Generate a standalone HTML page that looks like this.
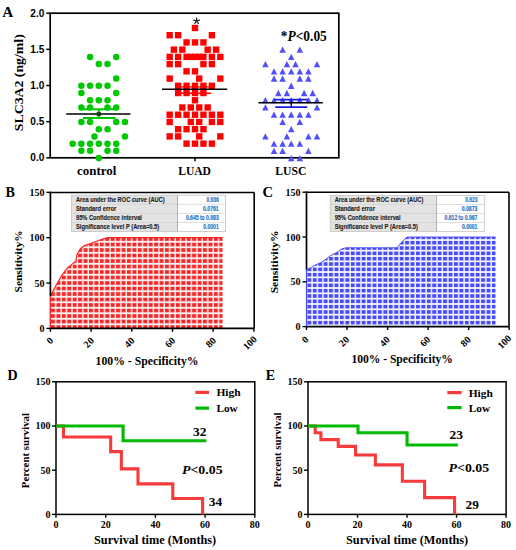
<!DOCTYPE html>
<html><head><meta charset="utf-8"><style>
html,body{margin:0;padding:0;background:#fff;width:516px;height:550px;overflow:hidden}
svg{display:block}
</style></head><body>
<svg width="516" height="550" viewBox="0 0 516 550">
<rect width="516" height="550" fill="#fff"/>
<text x="2.20" y="16.60" font-family="'Liberation Serif', serif" font-size="15.6" font-weight="bold" fill="#000" textLength="11.00" lengthAdjust="spacingAndGlyphs">A</text>
<rect x="50.2" y="13.2" width="288.6" height="144.60000000000002" fill="none" stroke="#000" stroke-width="1.7"/>
<line x1="46.30" y1="157.80" x2="50.20" y2="157.80" stroke="#000" stroke-width="1.5" stroke-linecap="butt"/>
<text x="44.30" y="161.40" font-family="'Liberation Sans', sans-serif" font-size="10" font-weight="bold" fill="#000" text-anchor="end" textLength="14.00" lengthAdjust="spacingAndGlyphs">0.0</text>
<line x1="46.30" y1="121.65" x2="50.20" y2="121.65" stroke="#000" stroke-width="1.5" stroke-linecap="butt"/>
<text x="44.30" y="125.25" font-family="'Liberation Sans', sans-serif" font-size="10" font-weight="bold" fill="#000" text-anchor="end" textLength="14.00" lengthAdjust="spacingAndGlyphs">0.5</text>
<line x1="46.30" y1="85.50" x2="50.20" y2="85.50" stroke="#000" stroke-width="1.5" stroke-linecap="butt"/>
<text x="44.30" y="89.10" font-family="'Liberation Sans', sans-serif" font-size="10" font-weight="bold" fill="#000" text-anchor="end" textLength="14.00" lengthAdjust="spacingAndGlyphs">1.0</text>
<line x1="46.30" y1="49.35" x2="50.20" y2="49.35" stroke="#000" stroke-width="1.5" stroke-linecap="butt"/>
<text x="44.30" y="52.95" font-family="'Liberation Sans', sans-serif" font-size="10" font-weight="bold" fill="#000" text-anchor="end" textLength="14.00" lengthAdjust="spacingAndGlyphs">1.5</text>
<line x1="46.30" y1="13.20" x2="50.20" y2="13.20" stroke="#000" stroke-width="1.5" stroke-linecap="butt"/>
<text x="44.30" y="16.80" font-family="'Liberation Sans', sans-serif" font-size="10" font-weight="bold" fill="#000" text-anchor="end" textLength="14.00" lengthAdjust="spacingAndGlyphs">2.0</text>
<line x1="98.80" y1="157.80" x2="98.80" y2="161.20" stroke="#000" stroke-width="1.5" stroke-linecap="butt"/>
<line x1="195.00" y1="157.80" x2="195.00" y2="161.20" stroke="#000" stroke-width="1.5" stroke-linecap="butt"/>
<line x1="291.20" y1="157.80" x2="291.20" y2="161.20" stroke="#000" stroke-width="1.5" stroke-linecap="butt"/>
<text x="77.00" y="175.20" font-family="'Liberation Serif', serif" font-size="11.6" font-weight="bold" fill="#000" textLength="39.40" lengthAdjust="spacingAndGlyphs">control</text>
<text x="178.20" y="174.50" font-family="'Liberation Serif', serif" font-size="11.6" font-weight="bold" fill="#000" textLength="32.80" lengthAdjust="spacingAndGlyphs">LUAD</text>
<text x="275.30" y="174.80" font-family="'Liberation Serif', serif" font-size="11.6" font-weight="bold" fill="#000" textLength="31.20" lengthAdjust="spacingAndGlyphs">LUSC</text>
<text x="23.40" y="131.20" font-family="'Liberation Serif', serif" font-size="13" font-weight="bold" fill="#000" textLength="97.00" lengthAdjust="spacingAndGlyphs" transform="rotate(-90 23.40 131.20)">SLC3A2 (ng/ml)</text>
<circle cx="90.08" cy="56.88" r="3.25" fill="#00c800"/>
<circle cx="116.24" cy="56.88" r="3.25" fill="#00c800"/>
<circle cx="98.80" cy="64.11" r="3.25" fill="#00c800"/>
<circle cx="107.52" cy="64.11" r="3.25" fill="#00c800"/>
<circle cx="116.24" cy="78.57" r="3.25" fill="#00c800"/>
<circle cx="81.36" cy="85.80" r="3.25" fill="#00c800"/>
<circle cx="90.08" cy="85.80" r="3.25" fill="#00c800"/>
<circle cx="98.80" cy="85.80" r="3.25" fill="#00c800"/>
<circle cx="107.52" cy="85.80" r="3.25" fill="#00c800"/>
<circle cx="81.36" cy="93.03" r="3.25" fill="#00c800"/>
<circle cx="116.24" cy="93.03" r="3.25" fill="#00c800"/>
<circle cx="90.08" cy="100.26" r="3.25" fill="#00c800"/>
<circle cx="98.80" cy="100.26" r="3.25" fill="#00c800"/>
<circle cx="107.52" cy="100.26" r="3.25" fill="#00c800"/>
<circle cx="81.36" cy="107.49" r="3.25" fill="#00c800"/>
<circle cx="90.08" cy="107.49" r="3.25" fill="#00c800"/>
<circle cx="107.52" cy="107.49" r="3.25" fill="#00c800"/>
<circle cx="116.24" cy="107.49" r="3.25" fill="#00c800"/>
<circle cx="81.36" cy="121.95" r="3.25" fill="#00c800"/>
<circle cx="90.08" cy="121.95" r="3.25" fill="#00c800"/>
<circle cx="116.24" cy="121.95" r="3.25" fill="#00c800"/>
<circle cx="124.96" cy="121.95" r="3.25" fill="#00c800"/>
<circle cx="98.80" cy="129.18" r="3.25" fill="#00c800"/>
<circle cx="107.52" cy="129.18" r="3.25" fill="#00c800"/>
<circle cx="94.44" cy="136.41" r="3.25" fill="#00c800"/>
<circle cx="124.96" cy="136.41" r="3.25" fill="#00c800"/>
<circle cx="72.64" cy="143.64" r="3.25" fill="#00c800"/>
<circle cx="81.36" cy="143.64" r="3.25" fill="#00c800"/>
<circle cx="90.08" cy="143.64" r="3.25" fill="#00c800"/>
<circle cx="98.80" cy="143.64" r="3.25" fill="#00c800"/>
<circle cx="107.52" cy="143.64" r="3.25" fill="#00c800"/>
<circle cx="116.24" cy="143.64" r="3.25" fill="#00c800"/>
<circle cx="81.36" cy="150.87" r="3.25" fill="#00c800"/>
<circle cx="90.08" cy="150.87" r="3.25" fill="#00c800"/>
<circle cx="107.52" cy="150.87" r="3.25" fill="#00c800"/>
<circle cx="116.24" cy="150.87" r="3.25" fill="#00c800"/>
<circle cx="98.80" cy="158.10" r="3.25" fill="#00c800"/>
<rect x="191.80" y="24.76" width="6.4" height="6.4" fill="#ff0000"/>
<rect x="166.48" y="31.99" width="6.4" height="6.4" fill="#ff0000"/>
<rect x="174.92" y="31.99" width="6.4" height="6.4" fill="#ff0000"/>
<rect x="208.68" y="31.99" width="6.4" height="6.4" fill="#ff0000"/>
<rect x="183.36" y="39.22" width="6.4" height="6.4" fill="#ff0000"/>
<rect x="191.80" y="39.22" width="6.4" height="6.4" fill="#ff0000"/>
<rect x="200.24" y="39.22" width="6.4" height="6.4" fill="#ff0000"/>
<rect x="170.70" y="46.45" width="6.4" height="6.4" fill="#ff0000"/>
<rect x="179.14" y="46.45" width="6.4" height="6.4" fill="#ff0000"/>
<rect x="204.46" y="46.45" width="6.4" height="6.4" fill="#ff0000"/>
<rect x="212.90" y="46.45" width="6.4" height="6.4" fill="#ff0000"/>
<rect x="166.48" y="53.68" width="6.4" height="6.4" fill="#ff0000"/>
<rect x="174.92" y="53.68" width="6.4" height="6.4" fill="#ff0000"/>
<rect x="183.36" y="53.68" width="6.4" height="6.4" fill="#ff0000"/>
<rect x="187.58" y="53.68" width="6.4" height="6.4" fill="#ff0000"/>
<rect x="191.80" y="53.68" width="6.4" height="6.4" fill="#ff0000"/>
<rect x="196.02" y="53.68" width="6.4" height="6.4" fill="#ff0000"/>
<rect x="200.24" y="53.68" width="6.4" height="6.4" fill="#ff0000"/>
<rect x="208.68" y="53.68" width="6.4" height="6.4" fill="#ff0000"/>
<rect x="217.12" y="53.68" width="6.4" height="6.4" fill="#ff0000"/>
<rect x="166.48" y="60.91" width="6.4" height="6.4" fill="#ff0000"/>
<rect x="174.92" y="60.91" width="6.4" height="6.4" fill="#ff0000"/>
<rect x="200.24" y="60.91" width="6.4" height="6.4" fill="#ff0000"/>
<rect x="208.68" y="60.91" width="6.4" height="6.4" fill="#ff0000"/>
<rect x="183.36" y="68.14" width="6.4" height="6.4" fill="#ff0000"/>
<rect x="191.80" y="68.14" width="6.4" height="6.4" fill="#ff0000"/>
<rect x="166.48" y="75.37" width="6.4" height="6.4" fill="#ff0000"/>
<rect x="196.02" y="75.37" width="6.4" height="6.4" fill="#ff0000"/>
<rect x="217.12" y="75.37" width="6.4" height="6.4" fill="#ff0000"/>
<rect x="174.92" y="82.60" width="6.4" height="6.4" fill="#ff0000"/>
<rect x="183.36" y="82.60" width="6.4" height="6.4" fill="#ff0000"/>
<rect x="191.80" y="82.60" width="6.4" height="6.4" fill="#ff0000"/>
<rect x="200.24" y="82.60" width="6.4" height="6.4" fill="#ff0000"/>
<rect x="208.68" y="82.60" width="6.4" height="6.4" fill="#ff0000"/>
<rect x="174.92" y="89.83" width="6.4" height="6.4" fill="#ff0000"/>
<rect x="183.36" y="89.83" width="6.4" height="6.4" fill="#ff0000"/>
<rect x="191.80" y="89.83" width="6.4" height="6.4" fill="#ff0000"/>
<rect x="200.24" y="89.83" width="6.4" height="6.4" fill="#ff0000"/>
<rect x="191.80" y="97.06" width="6.4" height="6.4" fill="#ff0000"/>
<rect x="179.14" y="104.29" width="6.4" height="6.4" fill="#ff0000"/>
<rect x="187.58" y="104.29" width="6.4" height="6.4" fill="#ff0000"/>
<rect x="196.02" y="104.29" width="6.4" height="6.4" fill="#ff0000"/>
<rect x="204.46" y="104.29" width="6.4" height="6.4" fill="#ff0000"/>
<rect x="166.48" y="111.52" width="6.4" height="6.4" fill="#ff0000"/>
<rect x="174.92" y="111.52" width="6.4" height="6.4" fill="#ff0000"/>
<rect x="183.36" y="111.52" width="6.4" height="6.4" fill="#ff0000"/>
<rect x="191.80" y="111.52" width="6.4" height="6.4" fill="#ff0000"/>
<rect x="200.24" y="111.52" width="6.4" height="6.4" fill="#ff0000"/>
<rect x="208.68" y="111.52" width="6.4" height="6.4" fill="#ff0000"/>
<rect x="217.12" y="111.52" width="6.4" height="6.4" fill="#ff0000"/>
<rect x="166.48" y="118.75" width="6.4" height="6.4" fill="#ff0000"/>
<rect x="187.58" y="118.75" width="6.4" height="6.4" fill="#ff0000"/>
<rect x="196.02" y="118.75" width="6.4" height="6.4" fill="#ff0000"/>
<rect x="208.68" y="118.75" width="6.4" height="6.4" fill="#ff0000"/>
<rect x="217.12" y="118.75" width="6.4" height="6.4" fill="#ff0000"/>
<rect x="174.92" y="125.98" width="6.4" height="6.4" fill="#ff0000"/>
<rect x="183.36" y="125.98" width="6.4" height="6.4" fill="#ff0000"/>
<rect x="191.80" y="125.98" width="6.4" height="6.4" fill="#ff0000"/>
<rect x="200.24" y="125.98" width="6.4" height="6.4" fill="#ff0000"/>
<rect x="166.48" y="133.21" width="6.4" height="6.4" fill="#ff0000"/>
<rect x="174.92" y="133.21" width="6.4" height="6.4" fill="#ff0000"/>
<rect x="196.02" y="133.21" width="6.4" height="6.4" fill="#ff0000"/>
<rect x="217.12" y="133.21" width="6.4" height="6.4" fill="#ff0000"/>
<rect x="183.36" y="140.44" width="6.4" height="6.4" fill="#ff0000"/>
<rect x="191.80" y="140.44" width="6.4" height="6.4" fill="#ff0000"/>
<rect x="200.24" y="140.44" width="6.4" height="6.4" fill="#ff0000"/>
<rect x="208.68" y="140.44" width="6.4" height="6.4" fill="#ff0000"/>
<polygon points="282.60,46.45 285.85,52.75 279.35,52.75" fill="#5050f8"/>
<polygon points="299.80,46.45 303.05,52.75 296.55,52.75" fill="#5050f8"/>
<polygon points="291.20,53.68 294.45,59.98 287.95,59.98" fill="#5050f8"/>
<polygon points="265.40,60.91 268.65,67.21 262.15,67.21" fill="#5050f8"/>
<polygon points="286.90,60.91 290.15,67.21 283.65,67.21" fill="#5050f8"/>
<polygon points="295.50,60.91 298.75,67.21 292.25,67.21" fill="#5050f8"/>
<polygon points="317.00,60.91 320.25,67.21 313.75,67.21" fill="#5050f8"/>
<polygon points="274.00,68.14 277.25,74.44 270.75,74.44" fill="#5050f8"/>
<polygon points="282.60,68.14 285.85,74.44 279.35,74.44" fill="#5050f8"/>
<polygon points="291.20,68.14 294.45,74.44 287.95,74.44" fill="#5050f8"/>
<polygon points="299.80,68.14 303.05,74.44 296.55,74.44" fill="#5050f8"/>
<polygon points="308.40,68.14 311.65,74.44 305.15,74.44" fill="#5050f8"/>
<polygon points="274.00,75.37 277.25,81.67 270.75,81.67" fill="#5050f8"/>
<polygon points="282.60,75.37 285.85,81.67 279.35,81.67" fill="#5050f8"/>
<polygon points="299.80,75.37 303.05,81.67 296.55,81.67" fill="#5050f8"/>
<polygon points="308.40,75.37 311.65,81.67 305.15,81.67" fill="#5050f8"/>
<polygon points="291.20,82.60 294.45,88.90 287.95,88.90" fill="#5050f8"/>
<polygon points="278.30,89.83 281.55,96.13 275.05,96.13" fill="#5050f8"/>
<polygon points="286.90,89.83 290.15,96.13 283.65,96.13" fill="#5050f8"/>
<polygon points="304.10,89.83 307.35,96.13 300.85,96.13" fill="#5050f8"/>
<polygon points="312.70,89.83 315.95,96.13 309.45,96.13" fill="#5050f8"/>
<polygon points="265.40,97.06 268.65,103.36 262.15,103.36" fill="#5050f8"/>
<polygon points="274.00,97.06 277.25,103.36 270.75,103.36" fill="#5050f8"/>
<polygon points="282.60,97.06 285.85,103.36 279.35,103.36" fill="#5050f8"/>
<polygon points="291.20,97.06 294.45,103.36 287.95,103.36" fill="#5050f8"/>
<polygon points="299.80,97.06 303.05,103.36 296.55,103.36" fill="#5050f8"/>
<polygon points="308.40,97.06 311.65,103.36 305.15,103.36" fill="#5050f8"/>
<polygon points="317.00,97.06 320.25,103.36 313.75,103.36" fill="#5050f8"/>
<polygon points="265.40,104.29 268.65,110.59 262.15,110.59" fill="#5050f8"/>
<polygon points="317.00,104.29 320.25,110.59 313.75,110.59" fill="#5050f8"/>
<polygon points="274.00,111.52 277.25,117.82 270.75,117.82" fill="#5050f8"/>
<polygon points="282.60,111.52 285.85,117.82 279.35,117.82" fill="#5050f8"/>
<polygon points="291.20,111.52 294.45,117.82 287.95,117.82" fill="#5050f8"/>
<polygon points="299.80,111.52 303.05,117.82 296.55,117.82" fill="#5050f8"/>
<polygon points="308.40,111.52 311.65,117.82 305.15,117.82" fill="#5050f8"/>
<polygon points="282.60,118.75 285.85,125.05 279.35,125.05" fill="#5050f8"/>
<polygon points="299.80,118.75 303.05,125.05 296.55,125.05" fill="#5050f8"/>
<polygon points="291.20,125.98 294.45,132.28 287.95,132.28" fill="#5050f8"/>
<polygon points="265.40,133.21 268.65,139.51 262.15,139.51" fill="#5050f8"/>
<polygon points="286.90,133.21 290.15,139.51 283.65,139.51" fill="#5050f8"/>
<polygon points="308.40,133.21 311.65,139.51 305.15,139.51" fill="#5050f8"/>
<polygon points="317.00,133.21 320.25,139.51 313.75,139.51" fill="#5050f8"/>
<polygon points="274.00,140.44 277.25,146.74 270.75,146.74" fill="#5050f8"/>
<polygon points="282.60,140.44 285.85,146.74 279.35,146.74" fill="#5050f8"/>
<polygon points="291.20,140.44 294.45,146.74 287.95,146.74" fill="#5050f8"/>
<polygon points="299.80,140.44 303.05,146.74 296.55,146.74" fill="#5050f8"/>
<polygon points="274.00,147.67 277.25,153.97 270.75,153.97" fill="#5050f8"/>
<polygon points="282.60,147.67 285.85,153.97 279.35,153.97" fill="#5050f8"/>
<polygon points="308.40,147.67 311.65,153.97 305.15,153.97" fill="#5050f8"/>
<polygon points="291.20,154.90 294.45,161.20 287.95,161.20" fill="#5050f8"/>
<polygon points="299.80,154.90 303.05,161.20 296.55,161.20" fill="#5050f8"/>
<line x1="82.00" y1="109.30" x2="117.40" y2="109.30" stroke="#00c800" stroke-width="1.9" stroke-linecap="butt"/>
<line x1="83.00" y1="118.00" x2="115.60" y2="118.00" stroke="#00c800" stroke-width="1.8" stroke-linecap="butt"/>
<line x1="98.80" y1="109.30" x2="98.80" y2="118.00" stroke="#00c800" stroke-width="2.2" stroke-linecap="butt"/>
<line x1="66.20" y1="113.90" x2="130.50" y2="113.90" stroke="#000" stroke-width="1.5" stroke-linecap="butt"/>
<rect x="96.6" y="112.2" width="4.4" height="3.6" fill="#103810"/>
<line x1="175.00" y1="86.90" x2="211.00" y2="86.90" stroke="#ff0000" stroke-width="1.4" stroke-linecap="butt"/>
<line x1="175.00" y1="93.20" x2="211.00" y2="93.20" stroke="#ff0000" stroke-width="1.4" stroke-linecap="butt"/>
<line x1="162.00" y1="89.20" x2="227.20" y2="89.20" stroke="#000" stroke-width="1.5" stroke-linecap="butt"/>
<line x1="274.50" y1="99.60" x2="307.60" y2="99.60" stroke="#1a1ae8" stroke-width="1.8" stroke-linecap="butt"/>
<line x1="275.30" y1="107.20" x2="307.20" y2="107.20" stroke="#1a1ae8" stroke-width="1.8" stroke-linecap="butt"/>
<line x1="291.20" y1="99.60" x2="291.20" y2="107.20" stroke="#1a1ae8" stroke-width="1.6" stroke-linecap="butt"/>
<line x1="258.40" y1="102.80" x2="322.80" y2="102.80" stroke="#000" stroke-width="1.5" stroke-linecap="butt"/>
<path d="M196.60,21.00 L196.60,18.00 M196.60,21.00 L199.45,20.07 M196.60,21.00 L198.36,23.43 M196.60,21.00 L194.84,23.43 M196.60,21.00 L193.75,20.07" stroke="#1a1a1a" stroke-width="1.25" stroke-linecap="round" fill="none"/>
<text x="280.8" y="41.3" font-family="'Liberation Serif', serif" font-size="14.6" font-weight="bold" textLength="46" lengthAdjust="spacingAndGlyphs">*<tspan font-style="italic">P</tspan>&lt;0.05</text>
<text x="5.60" y="196.70" font-family="'Liberation Serif', serif" font-size="15.6" font-weight="bold" fill="#000" textLength="9.40" lengthAdjust="spacingAndGlyphs">B</text>
<defs><pattern id="patB" patternUnits="userSpaceOnUse" x="51.00" y="303.20" width="5.43" height="5.5"><rect width="5.43" height="5.5" fill="#f6eeee"/><rect x="0" y="0" width="4.0" height="3.6" fill="#f42828"/></pattern></defs>
<polygon points="50.40,328.40 50.40,296.20 55.49,286.22 60.58,277.61 64.64,271.26 67.70,267.63 75.84,261.28 76.86,254.93 79.91,249.49 83.98,245.86 89.06,244.05 95.17,241.78 101.28,239.51 107.38,237.70 222.56,237.70 222.56,328.40" fill="url(#patB)"/>
<polyline points="50.40,328.40 50.40,296.20 55.49,286.22 60.58,277.61 64.64,271.26 67.70,267.63 75.84,261.28 76.86,254.93 79.91,249.49 83.98,245.86 89.06,244.05 95.17,241.78 101.28,239.51 107.38,237.70 222.56,237.70" fill="none" stroke="#f42828" stroke-width="1.2"/>
<line x1="50.40" y1="192.50" x2="254.20" y2="192.50" stroke="#000" stroke-width="1.6" stroke-linecap="butt"/>
<line x1="254.20" y1="192.50" x2="254.20" y2="328.40" stroke="#000" stroke-width="1.6" stroke-linecap="butt"/>
<line x1="50.40" y1="328.40" x2="254.20" y2="328.40" stroke="#000" stroke-width="1.6" stroke-linecap="butt"/>
<line x1="50.40" y1="191.70" x2="50.40" y2="296.20" stroke="#000" stroke-width="1.7" stroke-linecap="butt"/>
<line x1="50.40" y1="296.20" x2="50.40" y2="329.20" stroke="#f42828" stroke-width="1.2" stroke-linecap="butt"/>
<line x1="46.40" y1="328.40" x2="50.40" y2="328.40" stroke="#000" stroke-width="1.4" stroke-linecap="butt"/>
<text x="44.40" y="331.90" font-family="'Liberation Serif', serif" font-size="10" font-weight="bold" fill="#000" text-anchor="end" textLength="5.00" lengthAdjust="spacingAndGlyphs">0</text>
<line x1="46.40" y1="283.05" x2="50.40" y2="283.05" stroke="#000" stroke-width="1.4" stroke-linecap="butt"/>
<text x="44.40" y="286.55" font-family="'Liberation Serif', serif" font-size="10" font-weight="bold" fill="#000" text-anchor="end" textLength="10.00" lengthAdjust="spacingAndGlyphs">50</text>
<line x1="46.40" y1="237.70" x2="50.40" y2="237.70" stroke="#000" stroke-width="1.4" stroke-linecap="butt"/>
<text x="44.40" y="241.20" font-family="'Liberation Serif', serif" font-size="10" font-weight="bold" fill="#000" text-anchor="end" textLength="15.00" lengthAdjust="spacingAndGlyphs">100</text>
<line x1="46.40" y1="192.35" x2="50.40" y2="192.35" stroke="#000" stroke-width="1.4" stroke-linecap="butt"/>
<text x="44.40" y="195.85" font-family="'Liberation Serif', serif" font-size="10" font-weight="bold" fill="#000" text-anchor="end" textLength="15.00" lengthAdjust="spacingAndGlyphs">150</text>
<line x1="50.40" y1="328.40" x2="50.40" y2="331.80" stroke="#000" stroke-width="1.4" stroke-linecap="butt"/>
<text x="54.00" y="341.30" font-family="'Liberation Serif', serif" font-size="10" font-weight="bold" fill="#000" text-anchor="end" textLength="5.00" lengthAdjust="spacingAndGlyphs" transform="rotate(-45 54.00 341.30)">0</text>
<line x1="91.10" y1="328.40" x2="91.10" y2="331.80" stroke="#000" stroke-width="1.4" stroke-linecap="butt"/>
<text x="94.70" y="341.30" font-family="'Liberation Serif', serif" font-size="10" font-weight="bold" fill="#000" text-anchor="end" textLength="10.00" lengthAdjust="spacingAndGlyphs" transform="rotate(-45 94.70 341.30)">20</text>
<line x1="131.80" y1="328.40" x2="131.80" y2="331.80" stroke="#000" stroke-width="1.4" stroke-linecap="butt"/>
<text x="135.40" y="341.30" font-family="'Liberation Serif', serif" font-size="10" font-weight="bold" fill="#000" text-anchor="end" textLength="10.00" lengthAdjust="spacingAndGlyphs" transform="rotate(-45 135.40 341.30)">40</text>
<line x1="172.50" y1="328.40" x2="172.50" y2="331.80" stroke="#000" stroke-width="1.4" stroke-linecap="butt"/>
<text x="176.10" y="341.30" font-family="'Liberation Serif', serif" font-size="10" font-weight="bold" fill="#000" text-anchor="end" textLength="10.00" lengthAdjust="spacingAndGlyphs" transform="rotate(-45 176.10 341.30)">60</text>
<line x1="213.20" y1="328.40" x2="213.20" y2="331.80" stroke="#000" stroke-width="1.4" stroke-linecap="butt"/>
<text x="216.80" y="341.30" font-family="'Liberation Serif', serif" font-size="10" font-weight="bold" fill="#000" text-anchor="end" textLength="10.00" lengthAdjust="spacingAndGlyphs" transform="rotate(-45 216.80 341.30)">80</text>
<line x1="253.90" y1="328.40" x2="253.90" y2="331.80" stroke="#000" stroke-width="1.4" stroke-linecap="butt"/>
<text x="257.50" y="340.00" font-family="'Liberation Serif', serif" font-size="10" font-weight="bold" fill="#000" text-anchor="end" textLength="15.00" lengthAdjust="spacingAndGlyphs" transform="rotate(-45 257.50 340.00)">100</text>
<rect x="71.60" y="195.20" width="105.90" height="36.30" fill="#e3e3e3"/>
<rect x="177.50" y="195.20" width="48.10" height="36.30" fill="#ffffff"/>
<rect x="71.60" y="195.20" width="154.00" height="36.30" fill="none" stroke="#c4c4c4" stroke-width="0.8"/>
<line x1="71.60" y1="204.27" x2="225.60" y2="204.27" stroke="#cfcfcf" stroke-width="0.7" stroke-linecap="butt"/>
<line x1="71.60" y1="213.35" x2="225.60" y2="213.35" stroke="#cfcfcf" stroke-width="0.7" stroke-linecap="butt"/>
<line x1="71.60" y1="222.43" x2="225.60" y2="222.43" stroke="#cfcfcf" stroke-width="0.7" stroke-linecap="butt"/>
<line x1="177.50" y1="195.20" x2="177.50" y2="231.50" stroke="#a8a8a8" stroke-width="0.9" stroke-linecap="butt"/>
<text x="76.00" y="201.90" font-family="'Liberation Sans', sans-serif" font-size="6.8" font-weight="bold" fill="#202020" textLength="88.60" lengthAdjust="spacingAndGlyphs" stroke="#202020" stroke-width="0.12">Area under the ROC curve (AUC)</text>
<text x="76.00" y="210.97" font-family="'Liberation Sans', sans-serif" font-size="6.8" font-weight="bold" fill="#202020" textLength="40.20" lengthAdjust="spacingAndGlyphs" stroke="#202020" stroke-width="0.12">Standard error</text>
<text x="76.00" y="220.05" font-family="'Liberation Sans', sans-serif" font-size="6.8" font-weight="bold" fill="#202020" textLength="65.90" lengthAdjust="spacingAndGlyphs" stroke="#202020" stroke-width="0.12">95% Confidence interval</text>
<text x="76.00" y="229.12" font-family="'Liberation Sans', sans-serif" font-size="6.8" font-weight="bold" fill="#202020" textLength="83.20" lengthAdjust="spacingAndGlyphs" stroke="#202020" stroke-width="0.12">Significance level P (Area=0.5)</text>
<text x="218.70" y="201.70" font-family="'Liberation Sans', sans-serif" font-size="6.3" font-weight="bold" fill="#1f78c4" text-anchor="end" textLength="12.20" lengthAdjust="spacingAndGlyphs" stroke="#1f78c4" stroke-width="0.18">0.936</text>
<text x="218.70" y="210.77" font-family="'Liberation Sans', sans-serif" font-size="6.3" font-weight="bold" fill="#1f78c4" text-anchor="end" textLength="15.70" lengthAdjust="spacingAndGlyphs" stroke="#1f78c4" stroke-width="0.18">0.0761</text>
<text x="218.70" y="219.85" font-family="'Liberation Sans', sans-serif" font-size="6.3" font-weight="bold" fill="#1f78c4" text-anchor="end" textLength="32.80" lengthAdjust="spacingAndGlyphs" stroke="#1f78c4" stroke-width="0.18">0.645 to 0.983</text>
<text x="218.70" y="228.93" font-family="'Liberation Sans', sans-serif" font-size="6.3" font-weight="bold" fill="#1f78c4" text-anchor="end" textLength="15.40" lengthAdjust="spacingAndGlyphs" stroke="#1f78c4" stroke-width="0.18">0.0001</text>
<text x="262.60" y="196.90" font-family="'Liberation Serif', serif" font-size="15.6" font-weight="bold" fill="#000" textLength="10.60" lengthAdjust="spacingAndGlyphs">C</text>
<defs><pattern id="patC" patternUnits="userSpaceOnUse" x="307.40" y="304.90" width="5.43" height="5.33"><rect width="5.43" height="5.33" fill="#eef0f8"/><rect x="0" y="0" width="3.9" height="3.5" fill="#4848f6"/></pattern></defs>
<polygon points="306.50,326.60 306.50,269.70 311.36,267.28 315.62,264.87 321.09,262.54 325.96,259.13 330.22,255.73 337.11,252.32 341.77,248.92 346.03,247.75 397.31,247.75 399.34,244.53 403.19,240.58 407.04,237.00 495.62,237.00 495.62,326.60" fill="url(#patC)"/>
<polyline points="306.50,326.60 306.50,269.70 311.36,267.28 315.62,264.87 321.09,262.54 325.96,259.13 330.22,255.73 337.11,252.32 341.77,248.92 346.03,247.75 397.31,247.75 399.34,244.53 403.19,240.58 407.04,237.00 495.62,237.00" fill="none" stroke="#4848f6" stroke-width="0.9"/>
<line x1="306.50" y1="192.20" x2="509.00" y2="192.20" stroke="#000" stroke-width="1.6" stroke-linecap="butt"/>
<line x1="509.00" y1="192.20" x2="509.00" y2="326.60" stroke="#000" stroke-width="1.6" stroke-linecap="butt"/>
<line x1="306.50" y1="326.60" x2="509.00" y2="326.60" stroke="#000" stroke-width="1.6" stroke-linecap="butt"/>
<line x1="306.50" y1="191.40" x2="306.50" y2="269.70" stroke="#000" stroke-width="1.7" stroke-linecap="butt"/>
<line x1="306.50" y1="269.70" x2="306.50" y2="327.40" stroke="#4848f6" stroke-width="1.2" stroke-linecap="butt"/>
<line x1="302.50" y1="326.60" x2="306.50" y2="326.60" stroke="#000" stroke-width="1.4" stroke-linecap="butt"/>
<text x="300.50" y="330.10" font-family="'Liberation Serif', serif" font-size="10" font-weight="bold" fill="#000" text-anchor="end" textLength="5.00" lengthAdjust="spacingAndGlyphs">0</text>
<line x1="302.50" y1="281.80" x2="306.50" y2="281.80" stroke="#000" stroke-width="1.4" stroke-linecap="butt"/>
<text x="300.50" y="285.30" font-family="'Liberation Serif', serif" font-size="10" font-weight="bold" fill="#000" text-anchor="end" textLength="10.00" lengthAdjust="spacingAndGlyphs">50</text>
<line x1="302.50" y1="237.00" x2="306.50" y2="237.00" stroke="#000" stroke-width="1.4" stroke-linecap="butt"/>
<text x="300.50" y="240.50" font-family="'Liberation Serif', serif" font-size="10" font-weight="bold" fill="#000" text-anchor="end" textLength="15.00" lengthAdjust="spacingAndGlyphs">100</text>
<line x1="302.50" y1="192.20" x2="306.50" y2="192.20" stroke="#000" stroke-width="1.4" stroke-linecap="butt"/>
<text x="300.50" y="195.70" font-family="'Liberation Serif', serif" font-size="10" font-weight="bold" fill="#000" text-anchor="end" textLength="15.00" lengthAdjust="spacingAndGlyphs">150</text>
<line x1="306.50" y1="326.60" x2="306.50" y2="330.00" stroke="#000" stroke-width="1.4" stroke-linecap="butt"/>
<text x="309.40" y="340.30" font-family="'Liberation Serif', serif" font-size="10" font-weight="bold" fill="#000" text-anchor="end" textLength="5.00" lengthAdjust="spacingAndGlyphs" transform="rotate(-45 309.40 340.30)">0</text>
<line x1="347.04" y1="326.60" x2="347.04" y2="330.00" stroke="#000" stroke-width="1.4" stroke-linecap="butt"/>
<text x="349.94" y="340.30" font-family="'Liberation Serif', serif" font-size="10" font-weight="bold" fill="#000" text-anchor="end" textLength="10.00" lengthAdjust="spacingAndGlyphs" transform="rotate(-45 349.94 340.30)">20</text>
<line x1="387.58" y1="326.60" x2="387.58" y2="330.00" stroke="#000" stroke-width="1.4" stroke-linecap="butt"/>
<text x="390.48" y="340.30" font-family="'Liberation Serif', serif" font-size="10" font-weight="bold" fill="#000" text-anchor="end" textLength="10.00" lengthAdjust="spacingAndGlyphs" transform="rotate(-45 390.48 340.30)">40</text>
<line x1="428.12" y1="326.60" x2="428.12" y2="330.00" stroke="#000" stroke-width="1.4" stroke-linecap="butt"/>
<text x="431.02" y="340.30" font-family="'Liberation Serif', serif" font-size="10" font-weight="bold" fill="#000" text-anchor="end" textLength="10.00" lengthAdjust="spacingAndGlyphs" transform="rotate(-45 431.02 340.30)">60</text>
<line x1="468.66" y1="326.60" x2="468.66" y2="330.00" stroke="#000" stroke-width="1.4" stroke-linecap="butt"/>
<text x="471.56" y="340.30" font-family="'Liberation Serif', serif" font-size="10" font-weight="bold" fill="#000" text-anchor="end" textLength="10.00" lengthAdjust="spacingAndGlyphs" transform="rotate(-45 471.56 340.30)">80</text>
<line x1="509.20" y1="326.60" x2="509.20" y2="330.00" stroke="#000" stroke-width="1.4" stroke-linecap="butt"/>
<text x="512.10" y="339.00" font-family="'Liberation Serif', serif" font-size="10" font-weight="bold" fill="#000" text-anchor="end" textLength="15.00" lengthAdjust="spacingAndGlyphs" transform="rotate(-45 512.10 339.00)">100</text>
<rect x="330.30" y="195.40" width="106.30" height="36.10" fill="#e3e3e3"/>
<rect x="436.60" y="195.40" width="47.70" height="36.10" fill="#ffffff"/>
<rect x="330.30" y="195.40" width="154.00" height="36.10" fill="none" stroke="#c4c4c4" stroke-width="0.8"/>
<line x1="330.30" y1="204.43" x2="484.30" y2="204.43" stroke="#cfcfcf" stroke-width="0.7" stroke-linecap="butt"/>
<line x1="330.30" y1="213.45" x2="484.30" y2="213.45" stroke="#cfcfcf" stroke-width="0.7" stroke-linecap="butt"/>
<line x1="330.30" y1="222.47" x2="484.30" y2="222.47" stroke="#cfcfcf" stroke-width="0.7" stroke-linecap="butt"/>
<line x1="436.60" y1="195.40" x2="436.60" y2="231.50" stroke="#a8a8a8" stroke-width="0.9" stroke-linecap="butt"/>
<text x="334.70" y="202.10" font-family="'Liberation Sans', sans-serif" font-size="6.8" font-weight="bold" fill="#202020" textLength="88.60" lengthAdjust="spacingAndGlyphs" stroke="#202020" stroke-width="0.12">Area under the ROC curve (AUC)</text>
<text x="334.70" y="211.12" font-family="'Liberation Sans', sans-serif" font-size="6.8" font-weight="bold" fill="#202020" textLength="40.20" lengthAdjust="spacingAndGlyphs" stroke="#202020" stroke-width="0.12">Standard error</text>
<text x="334.70" y="220.15" font-family="'Liberation Sans', sans-serif" font-size="6.8" font-weight="bold" fill="#202020" textLength="65.90" lengthAdjust="spacingAndGlyphs" stroke="#202020" stroke-width="0.12">95% Confidence interval</text>
<text x="334.70" y="229.17" font-family="'Liberation Sans', sans-serif" font-size="6.8" font-weight="bold" fill="#202020" textLength="83.20" lengthAdjust="spacingAndGlyphs" stroke="#202020" stroke-width="0.12">Significance level P (Area=0.5)</text>
<text x="477.40" y="201.90" font-family="'Liberation Sans', sans-serif" font-size="6.3" font-weight="bold" fill="#1f78c4" text-anchor="end" textLength="12.20" lengthAdjust="spacingAndGlyphs" stroke="#1f78c4" stroke-width="0.18">0.923</text>
<text x="477.40" y="210.93" font-family="'Liberation Sans', sans-serif" font-size="6.3" font-weight="bold" fill="#1f78c4" text-anchor="end" textLength="15.70" lengthAdjust="spacingAndGlyphs" stroke="#1f78c4" stroke-width="0.18">0.0873</text>
<text x="477.40" y="219.95" font-family="'Liberation Sans', sans-serif" font-size="6.3" font-weight="bold" fill="#1f78c4" text-anchor="end" textLength="32.80" lengthAdjust="spacingAndGlyphs" stroke="#1f78c4" stroke-width="0.18">0.612 to 0.967</text>
<text x="477.40" y="228.97" font-family="'Liberation Sans', sans-serif" font-size="6.3" font-weight="bold" fill="#1f78c4" text-anchor="end" textLength="15.40" lengthAdjust="spacingAndGlyphs" stroke="#1f78c4" stroke-width="0.18">0.0001</text>
<text x="22.50" y="292.40" font-family="'Liberation Serif', serif" font-size="11" font-weight="bold" fill="#000" textLength="62.00" lengthAdjust="spacingAndGlyphs" transform="rotate(-90 22.50 292.40)">Sensitivity%</text>
<text x="278.40" y="293.30" font-family="'Liberation Serif', serif" font-size="11" font-weight="bold" fill="#000" textLength="63.00" lengthAdjust="spacingAndGlyphs" transform="rotate(-90 278.40 293.30)">Sensitivity%</text>
<text x="95.60" y="365.00" font-family="'Liberation Serif', serif" font-size="11.5" font-weight="bold" fill="#000" textLength="103.00" lengthAdjust="spacingAndGlyphs">100% - Specificity%</text>
<text x="351.40" y="362.80" font-family="'Liberation Serif', serif" font-size="11.5" font-weight="bold" fill="#000" textLength="101.50" lengthAdjust="spacingAndGlyphs">100% - Specificity%</text>
<text x="7.40" y="380.00" font-family="'Liberation Serif', serif" font-size="14" font-weight="bold" fill="#000">D</text>
<rect x="56.0" y="381.8" width="198.8" height="132.59999999999997" fill="none" stroke="#000" stroke-width="1.5"/>
<line x1="52.00" y1="514.40" x2="56.00" y2="514.40" stroke="#000" stroke-width="1.4" stroke-linecap="butt"/>
<text x="50.40" y="517.80" font-family="'Liberation Serif', serif" font-size="10" font-weight="bold" fill="#000" text-anchor="end" textLength="5.00" lengthAdjust="spacingAndGlyphs">0</text>
<line x1="52.00" y1="470.20" x2="56.00" y2="470.20" stroke="#000" stroke-width="1.4" stroke-linecap="butt"/>
<text x="50.40" y="473.60" font-family="'Liberation Serif', serif" font-size="10" font-weight="bold" fill="#000" text-anchor="end" textLength="10.00" lengthAdjust="spacingAndGlyphs">50</text>
<line x1="52.00" y1="426.00" x2="56.00" y2="426.00" stroke="#000" stroke-width="1.4" stroke-linecap="butt"/>
<text x="50.40" y="429.40" font-family="'Liberation Serif', serif" font-size="10" font-weight="bold" fill="#000" text-anchor="end" textLength="15.00" lengthAdjust="spacingAndGlyphs">100</text>
<line x1="52.00" y1="381.80" x2="56.00" y2="381.80" stroke="#000" stroke-width="1.4" stroke-linecap="butt"/>
<text x="50.40" y="385.20" font-family="'Liberation Serif', serif" font-size="10" font-weight="bold" fill="#000" text-anchor="end" textLength="15.00" lengthAdjust="spacingAndGlyphs">150</text>
<line x1="56.00" y1="514.40" x2="56.00" y2="517.80" stroke="#000" stroke-width="1.4" stroke-linecap="butt"/>
<text x="56.00" y="528.40" font-family="'Liberation Serif', serif" font-size="10" font-weight="bold" fill="#000" text-anchor="middle" textLength="5.00" lengthAdjust="spacingAndGlyphs">0</text>
<line x1="105.70" y1="514.40" x2="105.70" y2="517.80" stroke="#000" stroke-width="1.4" stroke-linecap="butt"/>
<text x="105.70" y="528.40" font-family="'Liberation Serif', serif" font-size="10" font-weight="bold" fill="#000" text-anchor="middle" textLength="10.00" lengthAdjust="spacingAndGlyphs">20</text>
<line x1="155.40" y1="514.40" x2="155.40" y2="517.80" stroke="#000" stroke-width="1.4" stroke-linecap="butt"/>
<text x="155.40" y="528.40" font-family="'Liberation Serif', serif" font-size="10" font-weight="bold" fill="#000" text-anchor="middle" textLength="10.00" lengthAdjust="spacingAndGlyphs">40</text>
<line x1="205.10" y1="514.40" x2="205.10" y2="517.80" stroke="#000" stroke-width="1.4" stroke-linecap="butt"/>
<text x="205.10" y="528.40" font-family="'Liberation Serif', serif" font-size="10" font-weight="bold" fill="#000" text-anchor="middle" textLength="10.00" lengthAdjust="spacingAndGlyphs">60</text>
<line x1="254.80" y1="514.40" x2="254.80" y2="517.80" stroke="#000" stroke-width="1.4" stroke-linecap="butt"/>
<text x="254.80" y="528.40" font-family="'Liberation Serif', serif" font-size="10" font-weight="bold" fill="#000" text-anchor="middle" textLength="10.00" lengthAdjust="spacingAndGlyphs">80</text>
<path d="M56.00,426.00 H63.45 V437.05 H110.67 V451.64 H121.36 V468.87 H138.00 V483.90 H172.79 V498.49 H202.61 V514.40" fill="none" stroke="#f53b3b" stroke-width="3.1"/>
<path d="M56.00,426.00 H123.09 V440.76 H206.34 V440.76" fill="none" stroke="#00b900" stroke-width="3.1"/>
<line x1="195.40" y1="392.40" x2="209.00" y2="392.40" stroke="#f53b3b" stroke-width="3.2" stroke-linecap="butt"/>
<line x1="195.40" y1="408.10" x2="209.00" y2="408.10" stroke="#00b900" stroke-width="3.2" stroke-linecap="butt"/>
<text x="216.40" y="396.30" font-family="'Liberation Serif', serif" font-size="11.4" font-weight="bold" fill="#000" textLength="24.20" lengthAdjust="spacingAndGlyphs">High</text>
<text x="216.40" y="412.00" font-family="'Liberation Serif', serif" font-size="11.4" font-weight="bold" fill="#000" textLength="21.40" lengthAdjust="spacingAndGlyphs">Low</text>
<text x="193.00" y="436.30" font-family="'Liberation Serif', serif" font-size="13" font-weight="bold" fill="#000" textLength="13.40" lengthAdjust="spacingAndGlyphs">32</text>
<text x="208.80" y="505.50" font-family="'Liberation Serif', serif" font-size="13" font-weight="bold" fill="#000" textLength="13.40" lengthAdjust="spacingAndGlyphs">34</text>
<text x="182.00" y="474.40" font-family="'Liberation Serif', serif" font-size="13" font-weight="bold" textLength="40.6" lengthAdjust="spacingAndGlyphs"><tspan font-style="italic">P</tspan>&lt;0.05</text>
<text x="94.00" y="544.00" font-family="'Liberation Serif', serif" font-size="12.2" font-weight="bold" fill="#000" textLength="122.20" lengthAdjust="spacingAndGlyphs">Survival time (Months)</text>
<text x="28.80" y="488.20" font-family="'Liberation Serif', serif" font-size="10.6" font-weight="bold" fill="#000" textLength="75.20" lengthAdjust="spacingAndGlyphs" transform="rotate(-90 28.80 488.20)">Percent survival</text>
<text x="265.80" y="380.00" font-family="'Liberation Serif', serif" font-size="14" font-weight="bold" fill="#000">E</text>
<rect x="308.0" y="381.8" width="198.10000000000002" height="132.59999999999997" fill="none" stroke="#000" stroke-width="1.5"/>
<line x1="304.00" y1="514.40" x2="308.00" y2="514.40" stroke="#000" stroke-width="1.4" stroke-linecap="butt"/>
<text x="302.40" y="517.80" font-family="'Liberation Serif', serif" font-size="10" font-weight="bold" fill="#000" text-anchor="end" textLength="5.00" lengthAdjust="spacingAndGlyphs">0</text>
<line x1="304.00" y1="470.20" x2="308.00" y2="470.20" stroke="#000" stroke-width="1.4" stroke-linecap="butt"/>
<text x="302.40" y="473.60" font-family="'Liberation Serif', serif" font-size="10" font-weight="bold" fill="#000" text-anchor="end" textLength="10.00" lengthAdjust="spacingAndGlyphs">50</text>
<line x1="304.00" y1="426.00" x2="308.00" y2="426.00" stroke="#000" stroke-width="1.4" stroke-linecap="butt"/>
<text x="302.40" y="429.40" font-family="'Liberation Serif', serif" font-size="10" font-weight="bold" fill="#000" text-anchor="end" textLength="15.00" lengthAdjust="spacingAndGlyphs">100</text>
<line x1="304.00" y1="381.80" x2="308.00" y2="381.80" stroke="#000" stroke-width="1.4" stroke-linecap="butt"/>
<text x="302.40" y="385.20" font-family="'Liberation Serif', serif" font-size="10" font-weight="bold" fill="#000" text-anchor="end" textLength="15.00" lengthAdjust="spacingAndGlyphs">150</text>
<line x1="308.00" y1="514.40" x2="308.00" y2="517.80" stroke="#000" stroke-width="1.4" stroke-linecap="butt"/>
<text x="308.00" y="528.40" font-family="'Liberation Serif', serif" font-size="10" font-weight="bold" fill="#000" text-anchor="middle" textLength="5.00" lengthAdjust="spacingAndGlyphs">0</text>
<line x1="357.52" y1="514.40" x2="357.52" y2="517.80" stroke="#000" stroke-width="1.4" stroke-linecap="butt"/>
<text x="357.52" y="528.40" font-family="'Liberation Serif', serif" font-size="10" font-weight="bold" fill="#000" text-anchor="middle" textLength="10.00" lengthAdjust="spacingAndGlyphs">20</text>
<line x1="407.04" y1="514.40" x2="407.04" y2="517.80" stroke="#000" stroke-width="1.4" stroke-linecap="butt"/>
<text x="407.04" y="528.40" font-family="'Liberation Serif', serif" font-size="10" font-weight="bold" fill="#000" text-anchor="middle" textLength="10.00" lengthAdjust="spacingAndGlyphs">40</text>
<line x1="456.56" y1="514.40" x2="456.56" y2="517.80" stroke="#000" stroke-width="1.4" stroke-linecap="butt"/>
<text x="456.56" y="528.40" font-family="'Liberation Serif', serif" font-size="10" font-weight="bold" fill="#000" text-anchor="middle" textLength="10.00" lengthAdjust="spacingAndGlyphs">60</text>
<line x1="506.08" y1="514.40" x2="506.08" y2="517.80" stroke="#000" stroke-width="1.4" stroke-linecap="butt"/>
<text x="506.08" y="528.40" font-family="'Liberation Serif', serif" font-size="10" font-weight="bold" fill="#000" text-anchor="middle" textLength="10.00" lengthAdjust="spacingAndGlyphs">80</text>
<path d="M308.00,426.00 H315.18 V432.81 H320.88 V439.61 H338.21 V446.42 H355.54 V455.00 H375.35 V464.90 H402.34 V481.25 H424.62 V497.60 H454.58 V514.40" fill="none" stroke="#f53b3b" stroke-width="3.1"/>
<path d="M308.00,426.00 H358.02 V432.81 H407.04 V445.01 H457.80 V445.01" fill="none" stroke="#00b900" stroke-width="3.1"/>
<line x1="447.30" y1="392.60" x2="461.60" y2="392.60" stroke="#f53b3b" stroke-width="3.2" stroke-linecap="butt"/>
<line x1="447.30" y1="407.60" x2="461.60" y2="407.60" stroke="#00b900" stroke-width="3.2" stroke-linecap="butt"/>
<text x="468.70" y="396.50" font-family="'Liberation Serif', serif" font-size="11.4" font-weight="bold" fill="#000" textLength="24.20" lengthAdjust="spacingAndGlyphs">High</text>
<text x="468.70" y="411.50" font-family="'Liberation Serif', serif" font-size="11.4" font-weight="bold" fill="#000" textLength="21.40" lengthAdjust="spacingAndGlyphs">Low</text>
<text x="449.60" y="439.40" font-family="'Liberation Serif', serif" font-size="13" font-weight="bold" fill="#000" textLength="13.40" lengthAdjust="spacingAndGlyphs">23</text>
<text x="465.50" y="508.70" font-family="'Liberation Serif', serif" font-size="13" font-weight="bold" fill="#000" textLength="13.40" lengthAdjust="spacingAndGlyphs">29</text>
<text x="448.60" y="472.10" font-family="'Liberation Serif', serif" font-size="13" font-weight="bold" textLength="40.6" lengthAdjust="spacingAndGlyphs"><tspan font-style="italic">P</tspan>&lt;0.05</text>
<text x="346.00" y="544.00" font-family="'Liberation Serif', serif" font-size="12.2" font-weight="bold" fill="#000" textLength="122.20" lengthAdjust="spacingAndGlyphs">Survival time (Months)</text>
<text x="281.30" y="487.60" font-family="'Liberation Serif', serif" font-size="10.6" font-weight="bold" fill="#000" textLength="75.20" lengthAdjust="spacingAndGlyphs" transform="rotate(-90 281.30 487.60)">Percent survival</text>
</svg>
</body></html>
